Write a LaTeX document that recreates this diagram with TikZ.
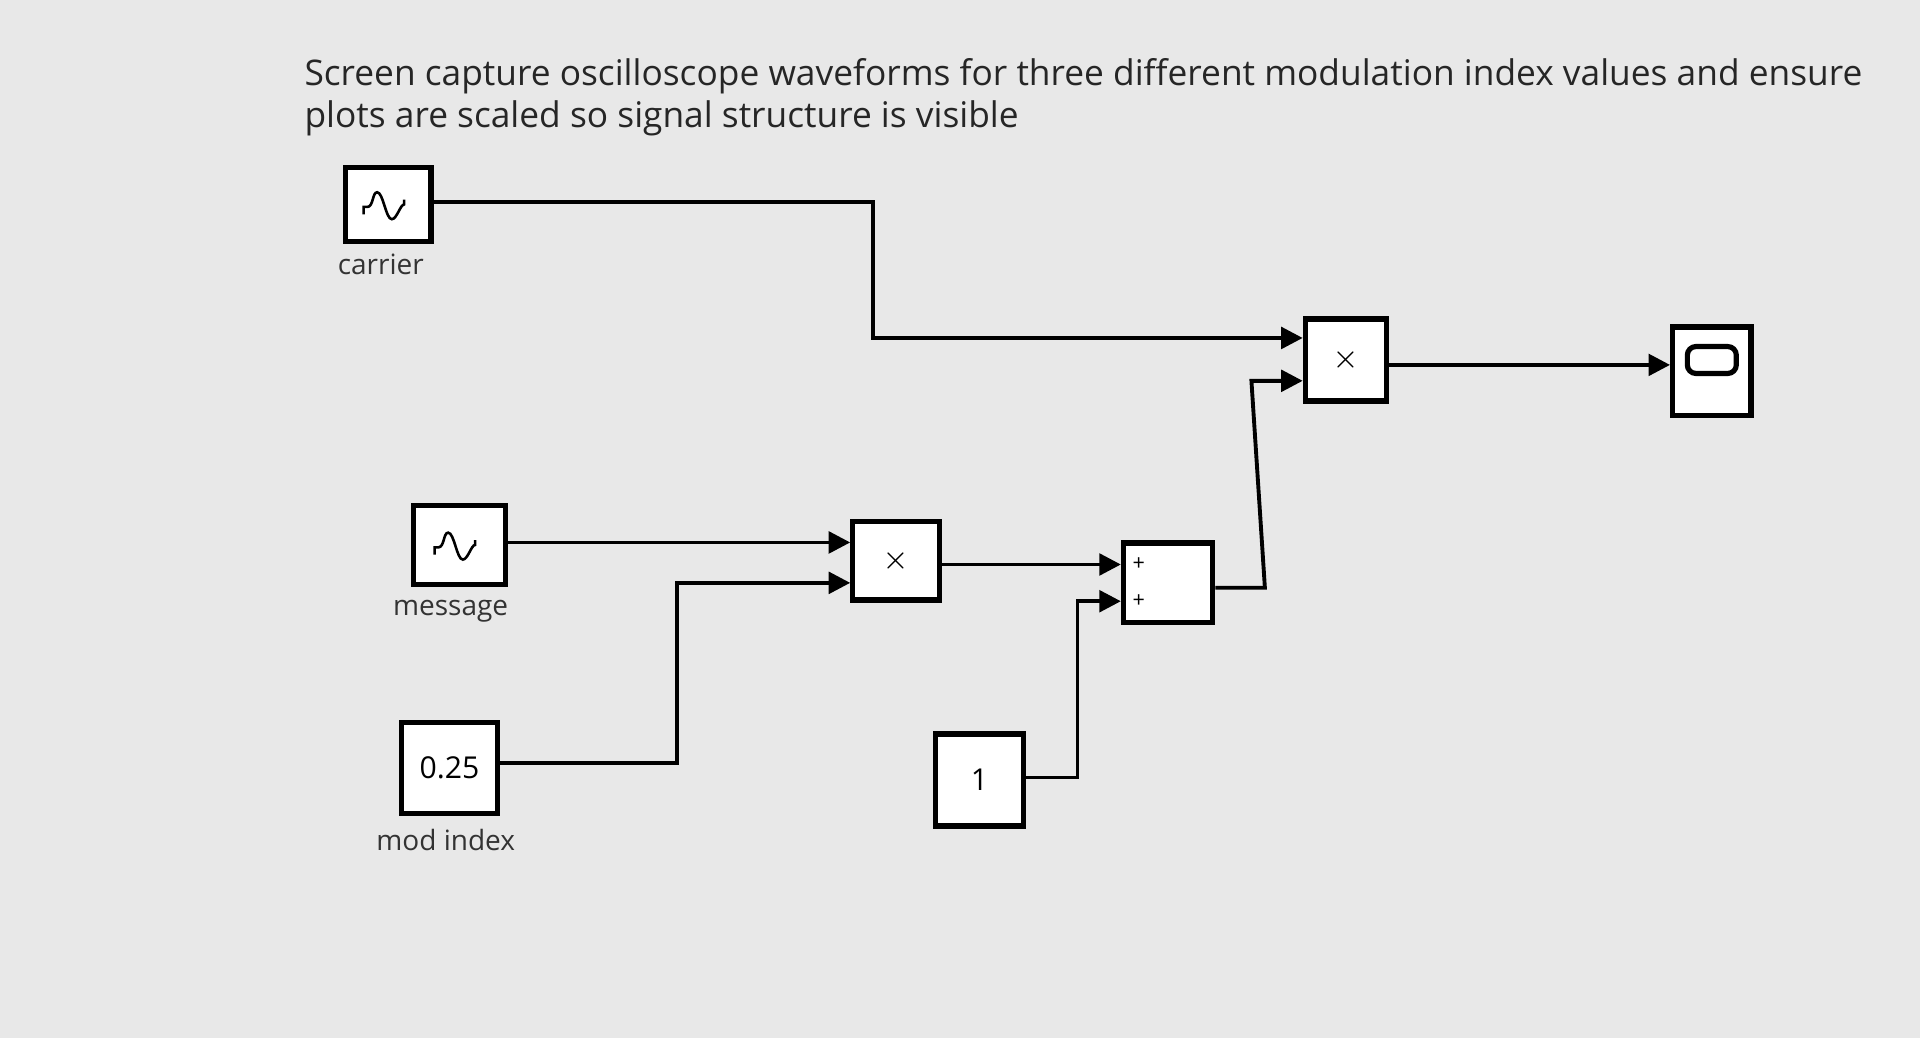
\documentclass[tikz,border=0pt]{standalone}
\usepackage{fontspec}
\setmainfont{Open Sans}
\usetikzlibrary{arrows.meta}
\begin{document}
\begin{tikzpicture}[x=0.01cm,y=-0.01cm,
  blk/.style={draw,line width=1.2pt,fill=white,inner sep=0pt,font=\fontsize{7}{8}\selectfont},
  wire/.style={line width=0.9pt,-{Triangle[length=5pt,width=5pt]}},
  lbl/.style={font=\fontsize{6.5}{7}\selectfont,text=black!80}]
\fill[black!9] (0,0) rectangle (1568,848);
\useasboundingbox (0,0) rectangle (1568,848);
\node[anchor=west,inner sep=0pt,font=\fontsize{8.2}{10}\selectfont,text=black!85] (t1) at (248,62) {Screen capture oscilloscope waveforms for three different modulation index values and ensure};
\node[anchor=west,inner sep=0pt,font=\fontsize{8.2}{10}\selectfont,text=black!85] (t2) at (248,97) {plots are scaled so signal structure is visible};
% blocks
\node[blk,minimum width=0.7cm,minimum height=0.6cm] (car) at (317,167) {};
\node[lbl] (carl) at (311,216) {carrier};
\node[blk,minimum width=0.75cm,minimum height=0.65cm] (msg) at (375,445) {};
\node[lbl] (msgl) at (368,499) {message};
\node[blk,minimum width=0.78cm,minimum height=0.74cm] (mi) at (367,627) {0.25};
\node[lbl] (mil) at (364,686) {mod index};
\node[blk,minimum width=0.71cm,minimum height=0.64cm] (m1) at (732,458) {$\times$};
\node[blk,minimum width=0.72cm,minimum height=0.75cm] (one) at (800,637) {1};
\node[blk,minimum width=0.73cm,minimum height=0.65cm] (sum) at (954,476) {};
\node[font=\fontsize{5}{5}\selectfont] (p1) at (930,461) {+};
\node[font=\fontsize{5}{5}\selectfont] (p2) at (930,491) {+};
\node[blk,minimum width=0.66cm,minimum height=0.67cm] (m2) at (1099,294) {$\times$};
\node[blk,minimum width=0.64cm,minimum height=0.72cm] (sc) at (1398,303) {};
\draw[line width=1.2pt,rounded corners=2pt] (1378,283) rectangle (1418,305);
% sine glyphs
\foreach \b in {car,msg}{
  \draw[line width=0.6pt] ([shift={(-20,8)}]\b.center) -- ++(0,-6) -- ++(3,0)
    .. controls +(5,0) and +(-4,0) .. ++(8,-12)
    .. controls +(5,0) and +(-5,0) .. ++(12,22)
    .. controls +(4,0) and +(-3,0) .. ++(10,-12) -- ++(0,-4);}
% wires
\coordinate (c1) at (713,165);
\coordinate (c2) at (713,276);
\draw[wire] (car.east |- 0,165) -- (c1) -- (c2) -- (m2.west |- 0,276);
\draw[wire] (m2.east |- 0,298) -- (sc.west |- 0,298);
\draw[wire] (msg.east |- 0,443) -- (m1.west |- 0,443);
\draw[wire] (mi.east |- 0,623) -- (553,623) -- (553,476) -- (m1.west |- 0,476);
\draw[wire] (m1.east |- 0,461) -- (sum.west |- 0,461);
\draw[wire] (one.east |- 0,635) -- (880,635) -- (880,491) -- (sum.west |- 0,491);
\draw[wire] (sum.east |- 0,480) -- (1033,480) -- (1022,311) -- (m2.west |- 0,311);
\end{tikzpicture}
\end{document}
